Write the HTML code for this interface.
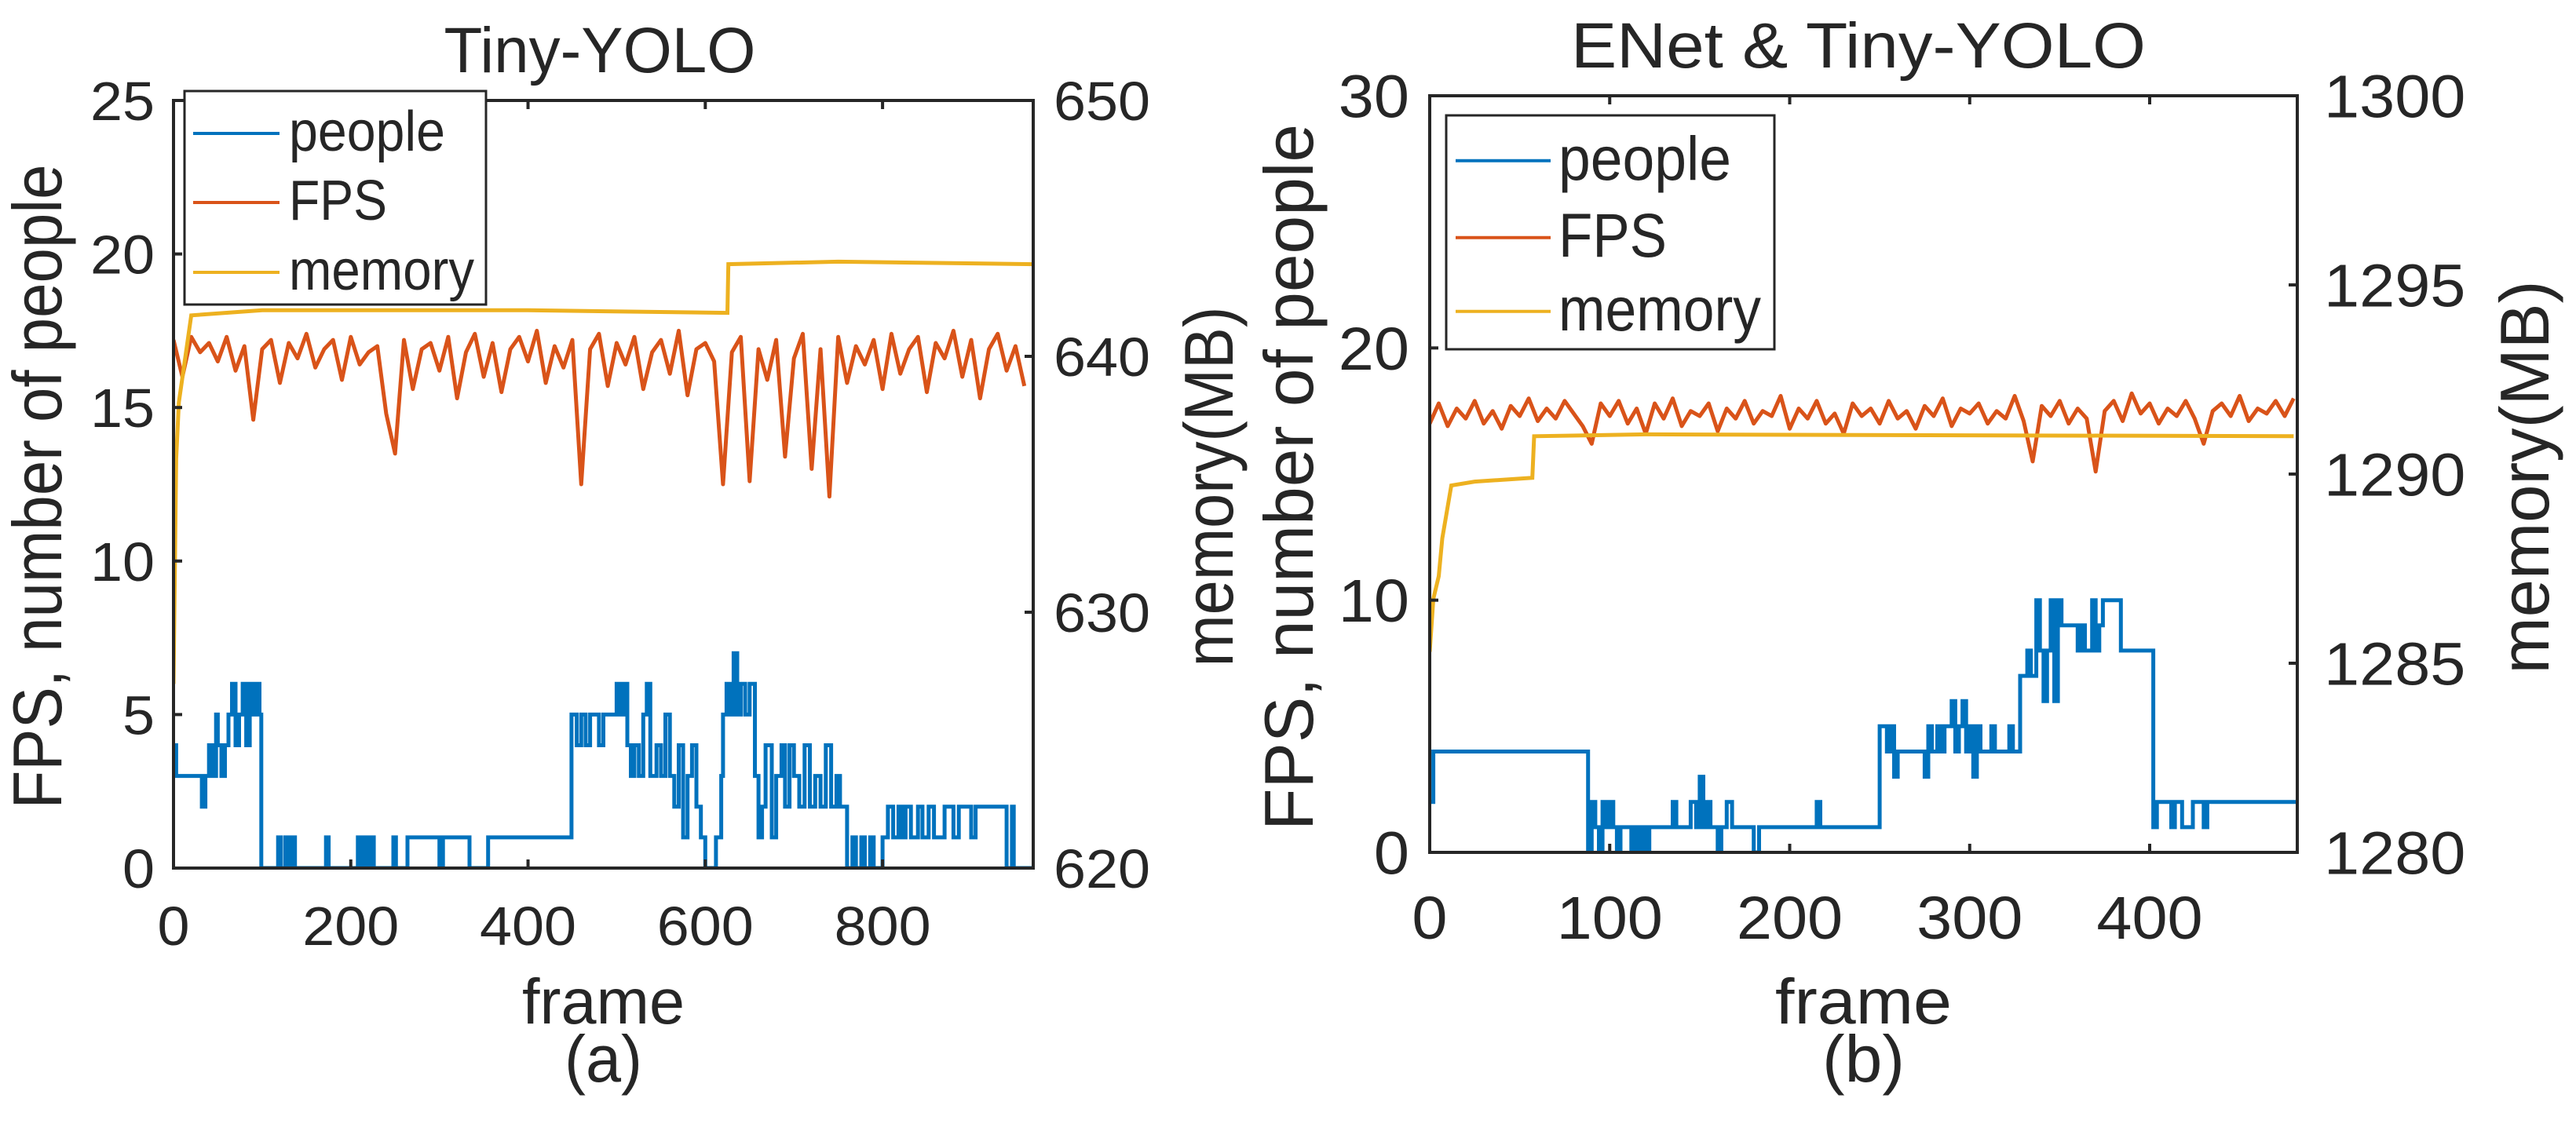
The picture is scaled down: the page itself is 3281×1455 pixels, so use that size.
<!DOCTYPE html>
<html><head><meta charset="utf-8"><style>
html,body{margin:0;padding:0;background:#fff;}
svg{display:block;}
text{font-family:"Liberation Sans",sans-serif;fill:#262626;}
</style></head><body>
<svg id="chart" width="3281" height="1455" viewBox="0 0 3281 1455" xmlns="http://www.w3.org/2000/svg"></svg>
<script>
// ---------- Panel (a) data: Tiny-YOLO ----------
const fpsA = [17.2,16.0,17.3,16.8,17.1,16.5,17.3,16.2,17.0,14.6,16.9,17.2,15.8,17.1,16.6,17.4,16.3,16.9,17.2,15.9,
17.3,16.4,16.8,17.0,14.8,13.5,17.2,15.6,16.9,17.1,16.2,17.3,15.3,16.8,17.4,16.0,17.1,15.5,16.9,17.3,
16.5,17.5,15.8,17.0,16.3,17.2,12.5,16.9,17.4,15.7,17.1,16.4,17.3,15.6,16.8,17.2,16.1,17.5,15.4,16.9,
17.1,16.5,12.5,16.8,17.3,12.6,16.9,15.9,17.2,13.4,16.6,17.4,13.0,16.9,12.1,17.3,15.8,17.0,16.4,17.2,
15.6,17.4,16.1,16.9,17.3,15.5,17.1,16.6,17.5,16.0,17.2,15.3,16.9,17.4,16.2,17.0,15.7];
const fpsAStep = 10;
const peopleA = [[0,4],[3,3],[30,3],[32,2],[36,3],[40,4],[44,3],[48,5],[50,4],[54,3],[58,4],[62,5],[66,6],[70,4],[74,5],[78,6],[82,4],[86,6],[90,5],[94,6],[97,5],[99,0],[118,1],[121,0],[126,1],[130,0],[134,1],[137,0],[172,1],[175,0],[208,1],[211,0],[214,1],[218,0],[222,1],[226,0],[248,1],[251,0],[264,1],[300,0],[304,1],[334,0],[355,1],[449,5],[455,4],[460,5],[465,4],[470,5],[480,4],[485,5],[500,6],[504,5],[508,6],[512,4],[516,3],[520,4],[525,3],[530,5],[534,6],[538,3],[545,4],[550,3],[555,5],[560,3],[565,2],[570,4],[575,1],[580,3],[585,4],[590,2],[595,1],[600,0],[612,1],[618,3],[620,5],[624,6],[628,5],[632,7],[636,5],[640,6],[645,5],[650,6],[656,3],[660,1],[664,2],[668,4],[675,1],[680,3],[686,4],[690,2],[695,4],[700,3],[706,2],[712,4],[718,2],[724,3],[730,2],[736,4],[742,2],[748,3],[752,2],[760,0],[766,1],[770,0],[776,1],[780,0],[786,1],[790,0],[800,1],[806,2],[812,1],[818,2],[822,1],[826,2],[832,1],[840,2],[845,1],[852,2],[858,1],[870,2],[880,1],[886,2],[900,1],[905,2],[940,0],[946,2],[948,0],[970,0]];
const memA = [[0,627.2],[3,636],[6,638.2],[20,641.6],[100,641.8],[400,641.8],[625,641.7],[626,643.6],[750,643.7],[970,643.6]];
const xTicksA = [0,200,400,600,800];
const yTicksA = [0,5,10,15,20,25];
const y2TicksA = [620,630,640,650];

// ---------- Panel (b) data: ENet & Tiny-YOLO ----------
const fpsB = [17.0,17.8,16.9,17.6,17.2,17.9,17.0,17.5,16.8,17.7,17.3,18.0,17.1,17.6,17.2,17.9,17.4,16.9,16.2,17.8,
17.3,17.9,17.0,17.6,16.6,17.8,17.2,18.0,16.9,17.5,17.3,17.8,16.7,17.6,17.2,17.9,17.0,17.5,17.3,18.1,
16.8,17.6,17.2,17.9,17.0,17.4,16.6,17.8,17.3,17.6,17.0,17.9,17.2,17.5,16.8,17.7,17.3,18.0,16.9,17.6,
17.4,17.8,17.0,17.5,17.2,18.1,17.1,15.5,17.7,17.3,17.9,17.0,17.6,17.2,15.1,17.5,17.9,17.1,18.2,17.4,
17.8,17.0,17.6,17.3,17.9,17.2,16.2,17.5,17.8,17.3,18.1,17.1,17.6,17.4,17.9,17.3,18.0];
const fpsBStep = 5;
const peopleB = [[0,2],[2,4],[88,0],[90,2],[92,1],[94,0],[96,2],[98,1],[100,2],[102,1],[104,0],[106,1],[112,0],[114,1],[116,0],[118,1],[120,0],[122,1],[135,2],[137,1],[145,2],[148,1],[150,3],[152,1],[154,2],[156,1],[160,0],[162,1],[165,2],[168,1],[180,0],[183,1],[215,2],[217,1],[250,5],[254,4],[256,5],[258,3],[260,4],[275,3],[277,5],[279,4],[282,5],[284,4],[286,5],[290,6],[292,4],[294,5],[296,6],[298,4],[300,5],[302,3],[304,5],[306,4],[312,5],[314,4],[322,5],[324,4],[328,7],[332,8],[334,7],[337,10],[339,8],[341,6],[343,8],[345,10],[347,6],[349,10],[351,9],[360,8],[362,9],[364,8],[368,10],[370,8],[372,9],[374,10],[384,8],[400,8],[402,1],[404,2],[412,1],[414,2],[418,1],[424,2],[430,1],[432,2],[480,2]];
const memB = [[0,1285.3],[2,1286.7],[5,1287.3],[7,1288.3],[12,1289.7],[25,1289.8],[57,1289.9],[58,1291.0],[120,1291.05],[480,1291.0]];
const xTicksB = [0,100,200,300,400];
const yTicksB = [0,10,20,30];
const y2TicksB = [1280,1285,1290,1295,1300];

const NS = "http://www.w3.org/2000/svg";
const svg = document.getElementById('chart');
const C_BLUE="#0072BD", C_ORANGE="#D95319", C_YEL="#EDB120", AX="#262626";
function mk(tag, attrs, parent){const e=document.createElementNS(NS,tag);for(const k in attrs)e.setAttribute(k,attrs[k]);(parent||svg).appendChild(e);return e;}
function txt(s, x, y, size, anchor, parent, rot, len){
  const t=mk('text',{x:x,y:y,'font-size':size,'text-anchor':anchor||'start'},parent);
  if(len){t.setAttribute('textLength',len);t.setAttribute('lengthAdjust','spacingAndGlyphs');}
  if(rot) t.setAttribute('transform','rotate(-90 '+x+' '+y+')');
  t.textContent=s;return t;
}

function panel(cfg){
  const g=mk('g',{});
  
  
  const {L,R,T,B,xMax,yMax,y2Min,y2Max,k}=cfg;
  const X=v=>L+(v/xMax)*(R-L);
  const Y=v=>B-(v/yMax)*(B-T);
  const Y2=v=>B-((v-y2Min)/(y2Max-y2Min))*(B-T);
  const cid='clip'+cfg.name;
  const cp=mk('clipPath',{id:cid},g);mk('rect',{x:L,y:T,width:R-L,height:B-T},cp);
  const plot=mk('g',{'clip-path':'url(#'+cid+')'},g);
  let d='';cfg.fps.forEach((v,i)=>{d+=(i?'L':'M')+X(i*cfg.fpsStep).toFixed(1)+','+Y(v).toFixed(1);});
  const pf=mk('path',{d:d,fill:'none',stroke:C_ORANGE,'stroke-width':5,'stroke-linejoin':'round'},plot);
  
  
  d='';cfg.mem.forEach((p,i)=>{d+=(i?'L':'M')+X(p[0]).toFixed(1)+','+Y2(p[1]).toFixed(1);});
  const pm=mk('path',{d:d,fill:'none',stroke:C_YEL,'stroke-width':5},plot);
  
  
  d='';cfg.people.forEach((p,i)=>{
    if(i===0){d+='M'+X(p[0]).toFixed(1)+','+Y(p[1]).toFixed(1);}
    else{d+='L'+X(p[0]).toFixed(1)+','+Y(cfg.people[i-1][1]).toFixed(1)+'L'+X(p[0]).toFixed(1)+','+Y(p[1]).toFixed(1);}
  });
  d+='L'+X(xMax)+','+Y(cfg.people[cfg.people.length-1][1]).toFixed(1);
  const pp=mk('path',{d:d,fill:'none',stroke:C_BLUE,'stroke-width':5},plot);
  
  
  const box=mk('rect',{x:L,y:T,width:R-L,height:B-T,fill:'none',stroke:AX,'stroke-width':4},g);
  
  
  const tl=11, fs=70*k, dw=41*k;
  cfg.xTicks.forEach(v=>{
    mk('line',{x1:X(v),x2:X(v),y1:B,y2:B-tl,stroke:AX,'stroke-width':4},g);
    mk('line',{x1:X(v),x2:X(v),y1:T,y2:T+tl,stroke:AX,'stroke-width':4},g);
    const s=String(v);
    const t=txt(s,X(v),cfg.xLabY,fs,'middle',g,false,dw*s.length);
    
    
  });
  cfg.yTicks.forEach(v=>{
    mk('line',{x1:L,x2:L+tl,y1:Y(v),y2:Y(v),stroke:AX,'stroke-width':4},g);
    const s=String(v);
    const t=txt(s,cfg.yLabX,Y(v)+25*k,fs,'end',g,false,dw*s.length);
    
    
  });
  cfg.y2Ticks.forEach(v=>{
    mk('line',{x1:R,x2:R-tl,y1:Y2(v),y2:Y2(v),stroke:AX,'stroke-width':4},g);
    const s=String(v);
    const t=txt(s,cfg.y2LabX,Y2(v)+25*k,fs,'start',g,false,dw*s.length);
    
    
  });
  const ti=txt(cfg.title,cfg.titleX,cfg.titleY,82,'middle',g,false,cfg.titleLen);
  
  
  const xl=txt('frame',(L+R)/2,1304,82,'middle',g,false,cfg.frameLen);
  
  
  const cap=txt(cfg.caption,(L+R)/2,1378,84,'middle',g,false,cfg.capLen);
  
  
  const yl=txt('FPS, number of people',cfg.ylX,cfg.ylY,88,'middle',g,true,cfg.ylLen);
  
  
  const y2l=txt('memory(MB)',cfg.y2lX,cfg.y2lY,88,'middle',g,true,cfg.y2lLen);
  
  
  const lg=cfg.leg;
  const leg=mk('g',{},g);
  
  
  mk('rect',{x:lg.x,y:lg.y,width:lg.w,height:lg.h,fill:'#fff',stroke:AX,'stroke-width':3},leg);
  [['people',C_BLUE],['FPS',C_ORANGE],['memory',C_YEL]].forEach((e,i)=>{
    const yy=lg.b[i];
    mk('line',{x1:lg.l1,x2:lg.l2,y1:yy-22*k,y2:yy-22*k,stroke:e[1],'stroke-width':4},leg);
    const t=txt(e[0],lg.tx,yy,72*k,'start',leg,false,lg.len[i]);
    
    
  });
}

panel({name:'panel-a',k:1,L:221,R:1316,T:128,B:1106,xMax:970,yMax:25,y2Min:620,y2Max:650,
  fps:fpsA,fpsStep:fpsAStep,people:peopleA,mem:memA,xTicks:xTicksA,yTicks:yTicksA,y2Ticks:y2TicksA,
  xLabY:1204,yLabX:197,y2LabX:1342,title:'Tiny-YOLO',titleX:764,titleY:92,titleLen:397,caption:'(a)',capLen:99,frameLen:207,
  ylX:78,ylY:620,ylLen:821,y2lX:1570,y2lY:620,y2lLen:459,
  leg:{x:235,y:116,w:384,h:272,l1:246,l2:356,tx:368,b:[192,280,369],len:[199,125,236]}});
panel({name:'panel-b',k:1.1,L:1821,R:2926,T:122,B:1086,xMax:482,yMax:30,y2Min:1280,y2Max:1300,
  fps:fpsB,fpsStep:fpsBStep,people:peopleB,mem:memB,xTicks:xTicksB,yTicks:yTicksB,y2Ticks:y2TicksB,
  xLabY:1196,yLabX:1795,y2LabX:2960,title:'ENet & Tiny-YOLO',titleX:2367,titleY:86,titleLen:732,caption:'(b)',capLen:105,frameLen:225,
  ylX:1672,ylY:608,ylLen:900,y2lX:3246,y2lY:608,y2lLen:501,
  leg:{x:1842,y:147,w:418,h:298,l1:1854,l2:1975,tx:1985,b:[229,327,421],len:[220,138,258]}});
</script>
</body></html>
